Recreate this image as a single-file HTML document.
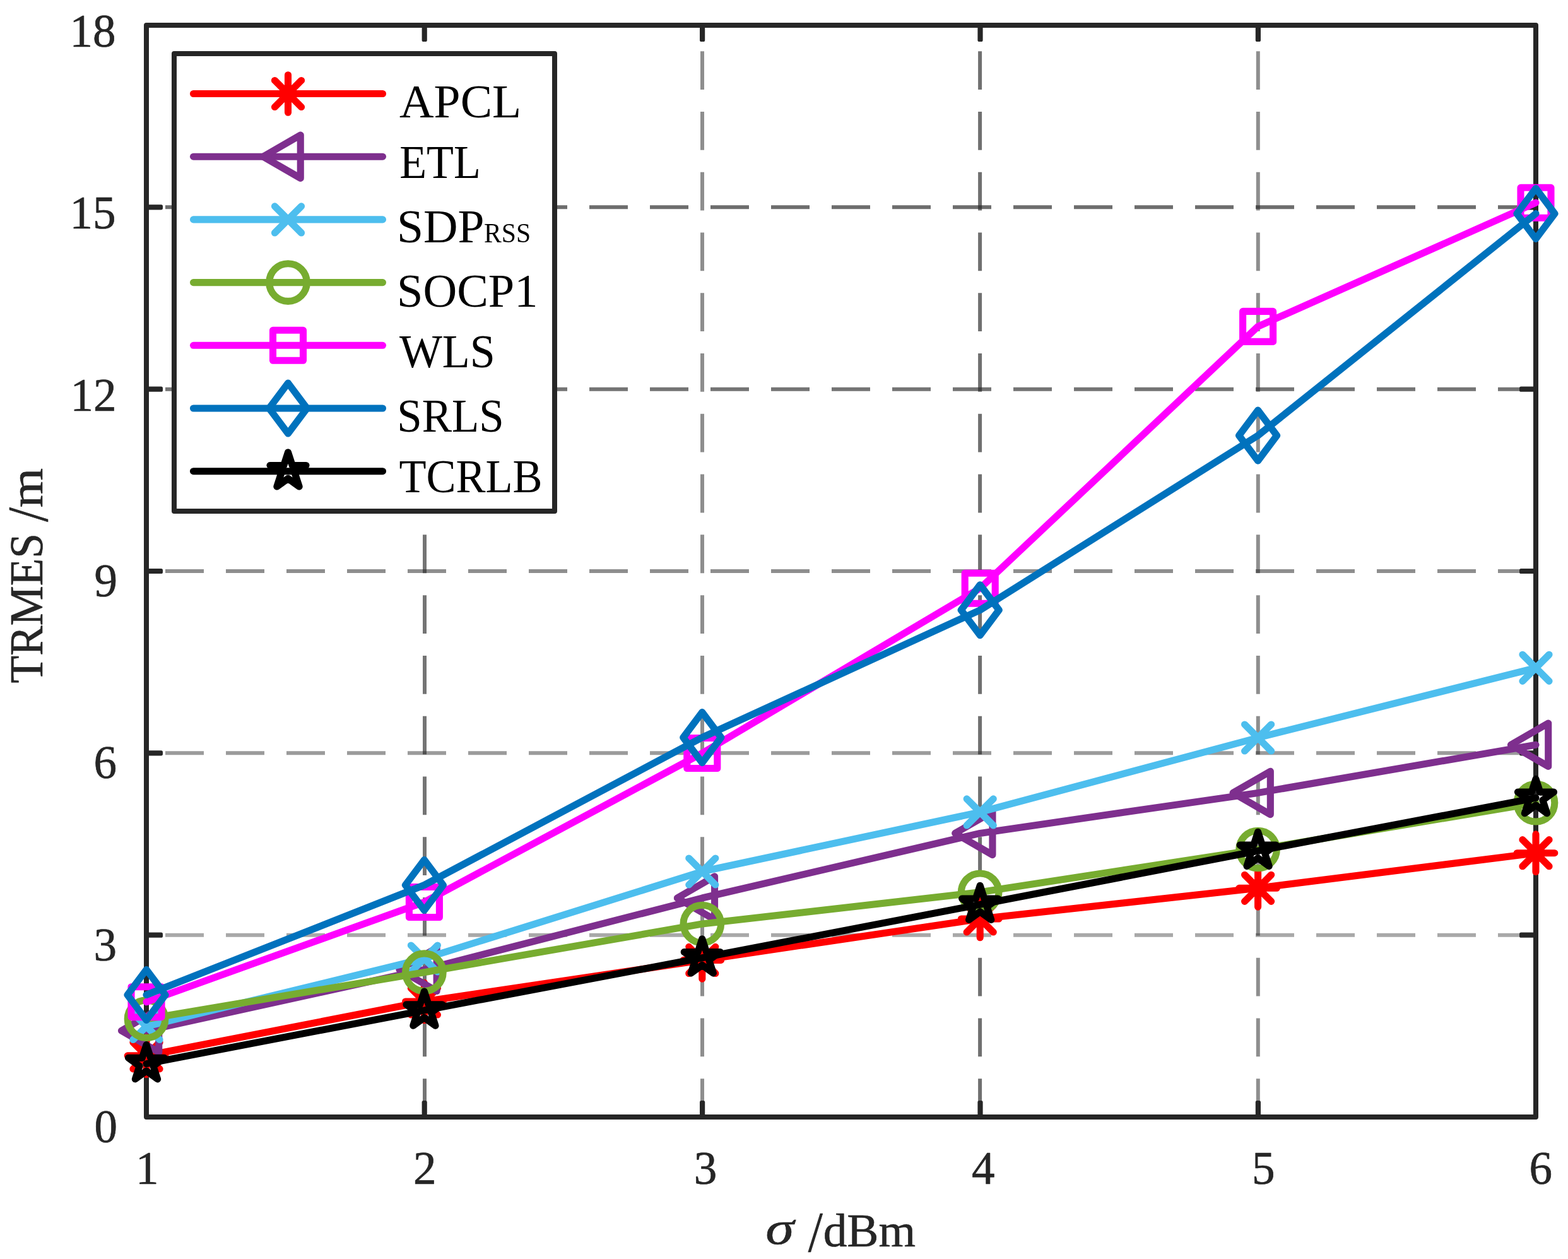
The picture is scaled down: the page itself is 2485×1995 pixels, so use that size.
<!DOCTYPE html>
<html lang="en"><head><meta charset="utf-8"><title>TRMES versus sigma</title>
<style>html,body{margin:0;padding:0;background:#ffffff}body{width:2485px;height:1995px}svg{display:block}text{font-family:"Liberation Serif","DejaVu Serif",serif}</style>
</head><body>
<svg width="2485" height="1995" viewBox="0 0 2485 1995" role="img" aria-label="TRMES versus sigma for APCL, ETL, SDP RSS, SOCP1, WLS, SRLS and TCRLB">
<rect width="2485" height="1995" fill="#ffffff"/>
<g id="grid" fill="none" stroke="#262626" stroke-width="6">
<path d="M262 328.33H2434" stroke-dasharray="61 35" stroke-opacity="0.67"/>
<path d="M262 616.67H2434" stroke-dasharray="61 35" stroke-opacity="0.64"/>
<path d="M262 905H2434" stroke-dasharray="61 35" stroke-opacity="0.52"/>
<path d="M262 1193.33H2434" stroke-dasharray="61 35" stroke-opacity="0.46"/>
<path d="M262 1481.67H2434" stroke-dasharray="61 35" stroke-opacity="0.4"/>
<path d="M673 81.2V1770" stroke-dasharray="60.8 34.97" stroke-opacity="0.64"/>
<path d="M1113 81.2V1770" stroke-dasharray="60.8 34.97" stroke-opacity="0.52"/>
<path d="M1553.1 81.2V1770" stroke-dasharray="60.8 34.97" stroke-opacity="0.66"/>
<path d="M1993.8 81.2V1770" stroke-dasharray="60.8 34.97" stroke-opacity="0.52"/>
</g>
<g id="axes" fill="none" stroke="#262626" stroke-linecap="round" stroke-linejoin="round">
<rect x="232" y="40" width="2202" height="1730" stroke-width="8"/>
<g id="ticks" fill="#262626" stroke="none">
<rect x="668.6" y="1744" width="8.2" height="26" rx="2.6"/>
<rect x="668.6" y="40" width="8.2" height="26" rx="2.6"/>
<rect x="1109" y="1744" width="8.2" height="26" rx="2.6"/>
<rect x="1109" y="40" width="8.2" height="26" rx="2.6"/>
<rect x="1549.4" y="1744" width="8.2" height="26" rx="2.6"/>
<rect x="1549.4" y="40" width="8.2" height="26" rx="2.6"/>
<rect x="1989.8" y="1744" width="8.2" height="26" rx="2.6"/>
<rect x="1989.8" y="40" width="8.2" height="26" rx="2.6"/>
<rect x="232" y="1477.57" width="26" height="8.2" rx="2.6"/>
<rect x="2408" y="1477.57" width="26" height="8.2" rx="2.6"/>
<rect x="232" y="1189.23" width="26" height="8.2" rx="2.6"/>
<rect x="2408" y="1189.23" width="26" height="8.2" rx="2.6"/>
<rect x="232" y="900.9" width="26" height="8.2" rx="2.6"/>
<rect x="2408" y="900.9" width="26" height="8.2" rx="2.6"/>
<rect x="232" y="612.57" width="26" height="8.2" rx="2.6"/>
<rect x="2408" y="612.57" width="26" height="8.2" rx="2.6"/>
<rect x="232" y="324.23" width="26" height="8.2" rx="2.6"/>
<rect x="2408" y="324.23" width="26" height="8.2" rx="2.6"/>
</g>
</g>
<g id="series">
<g><polyline points="232,1672.8 672.4,1587 1112.8,1521.4 1553.2,1456 1993.6,1407.3 2434,1351.7" fill="none" stroke="#ff0000" stroke-width="11.1" stroke-linecap="round" stroke-linejoin="round"/>
<path d="M202.2 1672.8H261.8M232 1643V1702.6M210.93 1651.73L253.07 1693.87M210.93 1693.87L253.07 1651.73" stroke="#ff0000" stroke-width="11.1" fill="none" stroke-linecap="round" stroke-linejoin="round"/>
<path d="M642.6 1587H702.2M672.4 1557.2V1616.8M651.33 1565.93L693.47 1608.07M651.33 1608.07L693.47 1565.93" stroke="#ff0000" stroke-width="11.1" fill="none" stroke-linecap="round" stroke-linejoin="round"/>
<path d="M1083 1521.4H1142.6M1112.8 1491.6V1551.2M1091.73 1500.33L1133.87 1542.47M1091.73 1542.47L1133.87 1500.33" stroke="#ff0000" stroke-width="11.1" fill="none" stroke-linecap="round" stroke-linejoin="round"/>
<path d="M1523.4 1456H1583M1553.2 1426.2V1485.8M1532.13 1434.93L1574.27 1477.07M1532.13 1477.07L1574.27 1434.93" stroke="#ff0000" stroke-width="11.1" fill="none" stroke-linecap="round" stroke-linejoin="round"/>
<path d="M1963.8 1407.3H2023.4M1993.6 1377.5V1437.1M1972.53 1386.23L2014.67 1428.37M1972.53 1428.37L2014.67 1386.23" stroke="#ff0000" stroke-width="11.1" fill="none" stroke-linecap="round" stroke-linejoin="round"/>
<path d="M2404.2 1351.7H2463.8M2434 1321.9V1381.5M2412.93 1330.63L2455.07 1372.77M2412.93 1372.77L2455.07 1330.63" stroke="#ff0000" stroke-width="11.1" fill="none" stroke-linecap="round" stroke-linejoin="round"/>
</g>
<g><polyline points="232,1633.2 672.4,1536.3 1112.8,1423 1553.2,1320.4 1993.6,1256.4 2434,1180.2" fill="none" stroke="#7e2f8e" stroke-width="11.1" stroke-linecap="round" stroke-linejoin="round"/>
<path d="M192.5 1633.2L251.75 1599V1667.4Z" stroke="#7e2f8e" stroke-width="11.1" fill="none" stroke-linecap="round" stroke-linejoin="round"/>
<path d="M632.9 1536.3L692.15 1502.1V1570.5Z" stroke="#7e2f8e" stroke-width="11.1" fill="none" stroke-linecap="round" stroke-linejoin="round"/>
<path d="M1073.3 1423L1132.55 1388.8V1457.2Z" stroke="#7e2f8e" stroke-width="11.1" fill="none" stroke-linecap="round" stroke-linejoin="round"/>
<path d="M1513.7 1320.4L1572.95 1286.2V1354.6Z" stroke="#7e2f8e" stroke-width="11.1" fill="none" stroke-linecap="round" stroke-linejoin="round"/>
<path d="M1954.1 1256.4L2013.35 1222.2V1290.6Z" stroke="#7e2f8e" stroke-width="11.1" fill="none" stroke-linecap="round" stroke-linejoin="round"/>
<path d="M2394.5 1180.2L2453.75 1146V1214.4Z" stroke="#7e2f8e" stroke-width="11.1" fill="none" stroke-linecap="round" stroke-linejoin="round"/>
</g>
<g><polyline points="232,1626.4 672.4,1519 1112.8,1381 1553.2,1286.9 1993.6,1169 2434,1058.3" fill="none" stroke="#4dbeee" stroke-width="11.1" stroke-linecap="round" stroke-linejoin="round"/>
<path d="M210.93 1605.33L253.07 1647.47M210.93 1647.47L253.07 1605.33" stroke="#4dbeee" stroke-width="11.1" fill="none" stroke-linecap="round" stroke-linejoin="round"/>
<path d="M651.33 1497.93L693.47 1540.07M651.33 1540.07L693.47 1497.93" stroke="#4dbeee" stroke-width="11.1" fill="none" stroke-linecap="round" stroke-linejoin="round"/>
<path d="M1091.73 1359.93L1133.87 1402.07M1091.73 1402.07L1133.87 1359.93" stroke="#4dbeee" stroke-width="11.1" fill="none" stroke-linecap="round" stroke-linejoin="round"/>
<path d="M1532.13 1265.83L1574.27 1307.97M1532.13 1307.97L1574.27 1265.83" stroke="#4dbeee" stroke-width="11.1" fill="none" stroke-linecap="round" stroke-linejoin="round"/>
<path d="M1972.53 1147.93L2014.67 1190.07M1972.53 1190.07L2014.67 1147.93" stroke="#4dbeee" stroke-width="11.1" fill="none" stroke-linecap="round" stroke-linejoin="round"/>
<path d="M2412.93 1037.23L2455.07 1079.37M2412.93 1079.37L2455.07 1037.23" stroke="#4dbeee" stroke-width="11.1" fill="none" stroke-linecap="round" stroke-linejoin="round"/>
</g>
<g><polyline points="232,1614.7 672.4,1540.7 1112.8,1464 1553.2,1413.8 1993.6,1346 2434,1272.2" fill="none" stroke="#77ac30" stroke-width="11.1" stroke-linecap="round" stroke-linejoin="round"/>
<circle cx="232" cy="1614.7" r="29.8" stroke="#77ac30" stroke-width="11.1" fill="none" stroke-linecap="round" stroke-linejoin="round"/>
<circle cx="672.4" cy="1540.7" r="29.8" stroke="#77ac30" stroke-width="11.1" fill="none" stroke-linecap="round" stroke-linejoin="round"/>
<circle cx="1112.8" cy="1464" r="29.8" stroke="#77ac30" stroke-width="11.1" fill="none" stroke-linecap="round" stroke-linejoin="round"/>
<circle cx="1553.2" cy="1413.8" r="29.8" stroke="#77ac30" stroke-width="11.1" fill="none" stroke-linecap="round" stroke-linejoin="round"/>
<circle cx="1993.6" cy="1346" r="29.8" stroke="#77ac30" stroke-width="11.1" fill="none" stroke-linecap="round" stroke-linejoin="round"/>
<circle cx="2434" cy="1272.2" r="29.8" stroke="#77ac30" stroke-width="11.1" fill="none" stroke-linecap="round" stroke-linejoin="round"/>
</g>
<g><polyline points="232,1587.7 672.4,1429.5 1112.8,1193.5 1553.2,932.2 1993.6,517.4 2434,321.3" fill="none" stroke="#ff00ff" stroke-width="11.1" stroke-linecap="round" stroke-linejoin="round"/>
<rect x="208" y="1563.7" width="48" height="48" stroke="#ff00ff" stroke-width="11.1" fill="none" stroke-linecap="round" stroke-linejoin="round"/>
<rect x="648.4" y="1405.5" width="48" height="48" stroke="#ff00ff" stroke-width="11.1" fill="none" stroke-linecap="round" stroke-linejoin="round"/>
<rect x="1088.8" y="1169.5" width="48" height="48" stroke="#ff00ff" stroke-width="11.1" fill="none" stroke-linecap="round" stroke-linejoin="round"/>
<rect x="1529.2" y="908.2" width="48" height="48" stroke="#ff00ff" stroke-width="11.1" fill="none" stroke-linecap="round" stroke-linejoin="round"/>
<rect x="1969.6" y="493.4" width="48" height="48" stroke="#ff00ff" stroke-width="11.1" fill="none" stroke-linecap="round" stroke-linejoin="round"/>
<rect x="2410" y="297.3" width="48" height="48" stroke="#ff00ff" stroke-width="11.1" fill="none" stroke-linecap="round" stroke-linejoin="round"/>
</g>
<g><polyline points="232,1576.5 672.4,1402.5 1112.8,1168.6 1553.2,966.7 1993.6,690.1 2434,338.5" fill="none" stroke="#0072bd" stroke-width="11.1" stroke-linecap="round" stroke-linejoin="round"/>
<path d="M232 1536.5L262 1576.5L232 1616.5L202 1576.5Z" stroke="#0072bd" stroke-width="11.1" fill="none" stroke-linecap="round" stroke-linejoin="round"/>
<path d="M672.4 1362.5L702.4 1402.5L672.4 1442.5L642.4 1402.5Z" stroke="#0072bd" stroke-width="11.1" fill="none" stroke-linecap="round" stroke-linejoin="round"/>
<path d="M1112.8 1128.6L1142.8 1168.6L1112.8 1208.6L1082.8 1168.6Z" stroke="#0072bd" stroke-width="11.1" fill="none" stroke-linecap="round" stroke-linejoin="round"/>
<path d="M1553.2 926.7L1583.2 966.7L1553.2 1006.7L1523.2 966.7Z" stroke="#0072bd" stroke-width="11.1" fill="none" stroke-linecap="round" stroke-linejoin="round"/>
<path d="M1993.6 650.1L2023.6 690.1L1993.6 730.1L1963.6 690.1Z" stroke="#0072bd" stroke-width="11.1" fill="none" stroke-linecap="round" stroke-linejoin="round"/>
<path d="M2434 298.5L2464 338.5L2434 378.5L2404 338.5Z" stroke="#0072bd" stroke-width="11.1" fill="none" stroke-linecap="round" stroke-linejoin="round"/>
</g>
<g><polyline points="232,1685.6 672.4,1601 1112.8,1517.8 1553.2,1433.2 1993.6,1348.3 2434,1264.4" fill="none" stroke="#000000" stroke-width="11.1" stroke-linecap="round" stroke-linejoin="round"/>
<path d="M232 1655.6L238.74 1676.33L260.53 1676.33L242.9 1689.14L249.63 1709.87L232 1697.06L214.37 1709.87L221.1 1689.14L203.47 1676.33L225.26 1676.33Z" stroke="#000000" stroke-width="11.1" fill="none" stroke-linecap="round" stroke-linejoin="round"/>
<path d="M672.4 1571L679.14 1591.73L700.93 1591.73L683.3 1604.54L690.03 1625.27L672.4 1612.46L654.77 1625.27L661.5 1604.54L643.87 1591.73L665.66 1591.73Z" stroke="#000000" stroke-width="11.1" fill="none" stroke-linecap="round" stroke-linejoin="round"/>
<path d="M1112.8 1487.8L1119.54 1508.53L1141.33 1508.53L1123.7 1521.34L1130.43 1542.07L1112.8 1529.26L1095.17 1542.07L1101.9 1521.34L1084.27 1508.53L1106.06 1508.53Z" stroke="#000000" stroke-width="11.1" fill="none" stroke-linecap="round" stroke-linejoin="round"/>
<path d="M1553.2 1403.2L1559.94 1423.93L1581.73 1423.93L1564.1 1436.74L1570.83 1457.47L1553.2 1444.66L1535.57 1457.47L1542.3 1436.74L1524.67 1423.93L1546.46 1423.93Z" stroke="#000000" stroke-width="11.1" fill="none" stroke-linecap="round" stroke-linejoin="round"/>
<path d="M1993.6 1318.3L2000.34 1339.03L2022.13 1339.03L2004.5 1351.84L2011.23 1372.57L1993.6 1359.76L1975.97 1372.57L1982.7 1351.84L1965.07 1339.03L1986.86 1339.03Z" stroke="#000000" stroke-width="11.1" fill="none" stroke-linecap="round" stroke-linejoin="round"/>
<path d="M2434 1234.4L2440.74 1255.13L2462.53 1255.13L2444.9 1267.94L2451.63 1288.67L2434 1275.86L2416.37 1288.67L2423.1 1267.94L2405.47 1255.13L2427.26 1255.13Z" stroke="#000000" stroke-width="11.1" fill="none" stroke-linecap="round" stroke-linejoin="round"/>
</g>
</g>
<g id="legend">
<rect x="276" y="85" width="603" height="725" fill="#ffffff" stroke="#262626" stroke-width="8" stroke-linejoin="round"/>
<path d="M306.5 148.5H606.5" fill="none" stroke="#ff0000" stroke-width="11.1" stroke-linecap="round"/>
<path d="M426.7 148.5H486.3M456.5 118.7V178.3M435.43 127.43L477.57 169.57M435.43 169.57L477.57 127.43" stroke="#ff0000" stroke-width="11.1" fill="none" stroke-linecap="round" stroke-linejoin="round"/>
<text transform="translate(633 185.9) scale(1.0161 1)" font-size="74.4" fill="#000000" >APCL</text>
<path d="M306.5 248.2H606.5" fill="none" stroke="#7e2f8e" stroke-width="11.1" stroke-linecap="round"/>
<path d="M417 248.2L476.25 214V282.4Z" stroke="#7e2f8e" stroke-width="11.1" fill="none" stroke-linecap="round" stroke-linejoin="round"/>
<text transform="translate(633.21 281.7) scale(0.9438 1)" font-size="74.4" fill="#000000" >ETL</text>
<path d="M306.5 347.9H606.5" fill="none" stroke="#4dbeee" stroke-width="11.1" stroke-linecap="round"/>
<path d="M435.43 326.83L477.57 368.97M435.43 368.97L477.57 326.83" stroke="#4dbeee" stroke-width="11.1" fill="none" stroke-linecap="round" stroke-linejoin="round"/>
<text fill="#000000" font-size="74.4"><tspan x="628.92" y="383.7" font-size="74.4" textLength="138.58" lengthAdjust="spacingAndGlyphs">SDP</tspan><tspan x="767.05" y="383.7" font-size="44" textLength="74.12" lengthAdjust="spacingAndGlyphs">RSS</tspan></text>
<path d="M306.5 447.6H606.5" fill="none" stroke="#77ac30" stroke-width="11.1" stroke-linecap="round"/>
<circle cx="456.5" cy="447.6" r="29.8" stroke="#77ac30" stroke-width="11.1" fill="none" stroke-linecap="round" stroke-linejoin="round"/>
<text transform="translate(629 485.6) scale(1.0005 1)" font-size="74.4" fill="#000000" >SOCP1</text>
<path d="M306.5 547.3H606.5" fill="none" stroke="#ff00ff" stroke-width="11.1" stroke-linecap="round"/>
<rect x="432.5" y="523.3" width="48" height="48" stroke="#ff00ff" stroke-width="11.1" fill="none" stroke-linecap="round" stroke-linejoin="round"/>
<text transform="translate(632.9 581.9) scale(0.9667 1)" font-size="74.4" fill="#000000" >WLS</text>
<path d="M306.5 647H606.5" fill="none" stroke="#0072bd" stroke-width="11.1" stroke-linecap="round"/>
<path d="M456.5 607L486.5 647L456.5 687L426.5 647Z" stroke="#0072bd" stroke-width="11.1" fill="none" stroke-linecap="round" stroke-linejoin="round"/>
<text transform="translate(629.23 683.7) scale(0.9533 1)" font-size="74.4" fill="#000000" >SRLS</text>
<path d="M306.5 746.7H606.5" fill="none" stroke="#000000" stroke-width="11.1" stroke-linecap="round"/>
<path d="M456.5 716.7L463.24 737.43L485.03 737.43L467.4 750.24L474.13 770.97L456.5 758.16L438.87 770.97L445.6 750.24L427.97 737.43L449.76 737.43Z" stroke="#000000" stroke-width="11.1" fill="none" stroke-linecap="round" stroke-linejoin="round"/>
<text transform="translate(632.45 780) scale(0.9472 1)" font-size="74.4" fill="#000000" >TCRLB</text>
</g>
<g id="yticklabels" fill="#262626" stroke="#262626" stroke-width="0.7" stroke-linejoin="round">
<text x="110.5" y="73.9" font-size="73.0">18</text>
<text x="110.45" y="361.5" font-size="73.0">15</text>
<text x="111.55" y="650.8" font-size="73.0">12</text>
<text x="149.4" y="945" font-size="73.0">9</text>
<text x="148.5" y="1232.9" font-size="73.0">6</text>
<text x="148.45" y="1521.9" font-size="73.0">3</text>
<text x="149.6" y="1810.2" font-size="73.0">0</text>
</g>
<g id="xticklabels" fill="#262626" stroke="#262626" stroke-width="0.7" stroke-linejoin="round">
<text x="215.1" y="1876" font-size="73.0">1</text>
<text x="655.02" y="1875.9" font-size="73.0">2</text>
<text x="1099.85" y="1875.9" font-size="73.0">3</text>
<text x="1540.1" y="1876.2" font-size="73.0">4</text>
<text x="1984.05" y="1876" font-size="73.0">5</text>
<text x="2423.5" y="1876" font-size="73.0">6</text>
</g>
<g id="axislabels" stroke="#262626" stroke-width="0.6" stroke-linejoin="round">
<text fill="#262626" font-size="74"><tspan x="1213.25" y="1971.4" font-size="74.6" textLength="45.15" lengthAdjust="spacingAndGlyphs" font-style="italic">σ</tspan> <tspan x="1280.8" y="1982.9" font-size="90" textLength="23.11" lengthAdjust="spacingAndGlyphs">/</tspan><tspan x="1304.66" y="1974.9" font-size="74" textLength="146.47" lengthAdjust="spacingAndGlyphs">dBm</tspan></text>
<text transform="translate(67 1081.6) rotate(-90)" fill="#262626" font-size="74.4"><tspan x="-0.96" y="0" font-size="74.4" textLength="237.52" lengthAdjust="spacingAndGlyphs">TRMES</tspan> <tspan x="254.6" y="7.7" font-size="90" textLength="23.11" lengthAdjust="spacingAndGlyphs">/</tspan><tspan x="277.32" y="0" font-size="74.4" textLength="62.42" lengthAdjust="spacingAndGlyphs">m</tspan></text>
</g>
</svg>
</body></html>
